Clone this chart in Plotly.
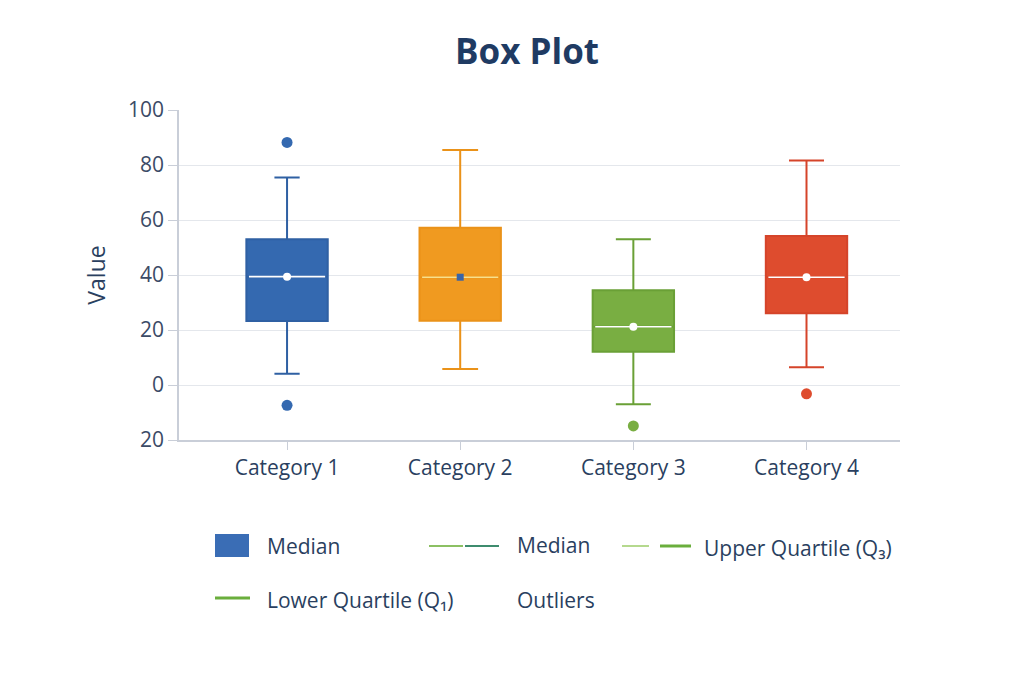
import plotly.graph_objects as go

# Datos
categorias = ["Category 1", "Category 2", "Category 3", "Category 4"]
q1 = [23.3, 23.4, 12.1, 26.1]
mediana = [39.4, 39.2, 21.2, 39.2]
q3 = [53.0, 57.2, 34.5, 54.2]
bigote_inf = [4.1, 5.8, -7.0, 6.5]
bigote_sup = [75.5, 85.5, 53.0, 81.6]
outliers = [[88.2, -7.4], [], [-14.9], [-3.2]]

y_ticks = [-20, 0, 20, 40, 60, 80, 100]
y_ticktext = ["20", "0", "20", "40", "60", "80", "100"]

colores = ["#3469B0", "#F09A20", "#79AE42", "#DE4C2E"]
bordes = ["#2F60A3", "#EA9219", "#6AA036", "#D5442A"]
color_mediana = ["#FFFFFF", "#F8E08C", "#FFFFFF", "#FFFFFF"]
ancho_bigote = [0.31, 0.44, 0.43, 0.43]

TEXTO = "#2A3F60"
FUENTE = "Open Sans"

# el navegador deja 8px de margen en el body
OFF = 8

fig = go.Figure()

for i, cat in enumerate(categorias):
    fig.add_trace(go.Box(
        x=[i], q1=[q1[i]], median=[mediana[i]], q3=[q3[i]],
        lowerfence=[bigote_inf[i]], upperfence=[bigote_sup[i]],
        width=0.47, whiskerwidth=ancho_bigote[i],
        fillcolor=colores[i], line=dict(color=bordes[i], width=2),
        boxpoints=False, showlegend=False, name=cat, hoverinfo="skip"
    ))
    # línea de mediana clara
    fig.add_trace(go.Scatter(
        x=[i - 0.22, i + 0.22], y=[mediana[i], mediana[i]], mode="lines",
        line=dict(color=color_mediana[i], width=1.6),
        showlegend=False, hoverinfo="skip"
    ))
    # punto central
    if i == 1:
        marcador = dict(symbol="square", size=7, color="#3A64A8")
    else:
        marcador = dict(symbol="circle", size=8, color="#FFFFFF")
    fig.add_trace(go.Scatter(
        x=[i], y=[mediana[i]], mode="markers", marker=marcador,
        showlegend=False, hoverinfo="skip"
    ))
    if outliers[i]:
        fig.add_trace(go.Scatter(
            x=[i] * len(outliers[i]), y=outliers[i], mode="markers",
            marker=dict(size=11, color=colores[i]),
            showlegend=False, hoverinfo="skip"
        ))

# Leyenda dibujada a mano (coordenadas de papel)
def px_x(px):
    return (px - 179) / 721

def px_y(py):
    return (440 - py) / 330

formas = [
    dict(type="rect", xref="paper", yref="paper", x0=px_x(215), x1=px_x(249),
         y0=px_y(557), y1=px_y(534), fillcolor="#3A6DB5", line=dict(width=0)),
    dict(type="line", xref="paper", yref="paper", x0=px_x(429), x1=px_x(463),
         y0=px_y(546), y1=px_y(546), line=dict(color="#8CC063", width=2)),
    dict(type="line", xref="paper", yref="paper", x0=px_x(465), x1=px_x(499),
         y0=px_y(546), y1=px_y(546), line=dict(color="#3E8C6E", width=2)),
    dict(type="line", xref="paper", yref="paper", x0=px_x(622), x1=px_x(649),
         y0=px_y(546), y1=px_y(546), line=dict(color="#B5D98E", width=2)),
    dict(type="line", xref="paper", yref="paper", x0=px_x(660), x1=px_x(691),
         y0=px_y(546), y1=px_y(546), line=dict(color="#6AAE3C", width=3)),
    dict(type="line", xref="paper", yref="paper", x0=px_x(215), x1=px_x(250),
         y0=px_y(598), y1=px_y(598), line=dict(color="#6AAE3C", width=3)),
]

etiquetas = [
    ("Median", 265, 546),
    ("Median", 515, 545),
    ("Upper Quartile (Q₃)", 702, 548),
    ("Lower Quartile (Q₁)", 265, 600),
    ("Outliers", 515, 600),
]
anotaciones = [
    dict(text=t, xref="paper", yref="paper", x=px_x(x), y=px_y(y),
         xanchor="left", yanchor="middle", showarrow=False,
         font=dict(family=FUENTE, size=21, color=TEXTO))
    for t, x, y in etiquetas
]

fig.update_layout(
    width=1024, height=683,
    margin=dict(l=179 - OFF, r=1024 - 900 + OFF, t=110 - OFF, b=683 - 440 + OFF),
    paper_bgcolor="white", plot_bgcolor="white",
    title=dict(text="<b>Box Plot</b>", x=(527 - OFF) / 1024, xref="container", xanchor="center",
               y=1 - (52 - OFF) / 683, yref="container", yanchor="middle",
               font=dict(family=FUENTE, size=35, color="#1F3B63")),
    shapes=formas, annotations=anotaciones,
    font=dict(family=FUENTE, color=TEXTO),
)

fig.update_xaxes(
    range=[-0.624, 3.54], tickvals=list(range(len(categorias))), ticktext=categorias,
    showgrid=False, zeroline=False, showline=True, linecolor="#C9CED8", linewidth=1.5,
    ticks="outside", ticklen=8, tickcolor="#C9CED8",
    tickfont=dict(family=FUENTE, size=21, color=TEXTO),
)
fig.update_yaxes(
    range=[-20, 100], tickvals=y_ticks, ticktext=y_ticktext,
    showgrid=True, gridcolor="#E4E7EC", gridwidth=1, zeroline=False,
    showline=True, linecolor="#C9CED8", linewidth=1.5,
    ticks="outside", ticklen=9, tickcolor="#C9CED8",
    tickfont=dict(family=FUENTE, size=21, color="#3B4B66"),
    title=dict(text="Value", standoff=16, font=dict(family=FUENTE, size=23, color=TEXTO)),
)

fig.write_html("out.html")
